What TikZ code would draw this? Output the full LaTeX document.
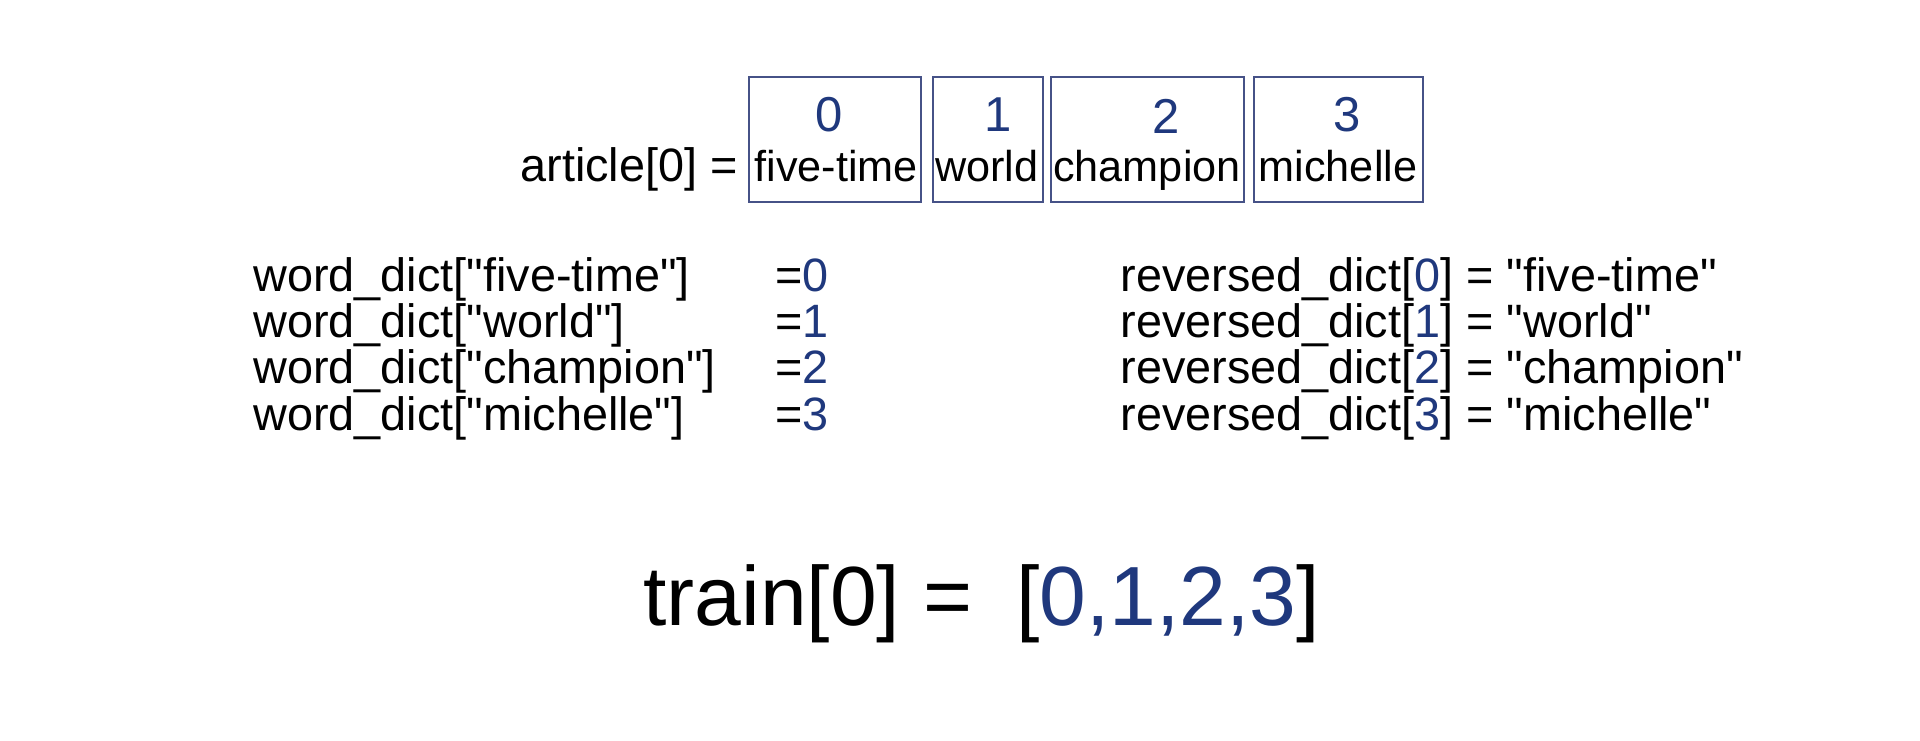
\documentclass[tikz,border=0pt]{standalone}
\usepackage{fontspec}
\setmainfont{Liberation Sans}[Ligatures=TeXOff]
\definecolor{navy}{RGB}{31,56,125}
\definecolor{boxline}{RGB}{70,82,135}
\begin{document}
\begin{tikzpicture}[x=0.5pt,y=-0.5pt,
  txt/.style={anchor=base west,inner sep=0pt,font=\fontsize{23.4pt}{28pt}\selectfont},
  wtxt/.style={anchor=base,inner sep=0pt,font=\fontsize{21.6pt}{26pt}\selectfont},
  num/.style={anchor=base,inner sep=0pt,text=navy,font=\fontsize{24.5pt}{29pt}\selectfont},
  cell/.style={draw=boxline,line width=0.7pt,inner sep=0pt,minimum height=62.5pt},
  big/.style={anchor=base west,inner sep=0pt,font=\fontsize{42pt}{50pt}\selectfont}]
\useasboundingbox[fill=white] (0,0) rectangle (1920,740);
% article row
\node[txt] (art) at (520,181) {article[0] =};
\node[cell,minimum width=86pt] (b0) at (835,139.5) {};
\node[cell,minimum width=55pt] (b1) at (988,139.5) {};
\node[cell,minimum width=96.5pt] (b2) at (1147.5,139.5) {};
\node[cell,minimum width=84.5pt] (b3) at (1338.5,139.5) {};
\node[num] (n0) at (829,131) {0};
\node[num] (n1) at (998,131) {1};
\node[num] (n2) at (1166,133) {2};
\node[num] (n3) at (1347,131) {3};
\node[wtxt] (w0) at (836,181) {five-time};
\node[wtxt] (w1) at (987,181) {world};
\node[wtxt] (w2) at (1147,181) {champion};
\node[wtxt] (w3) at (1338,181) {michelle};
% word_dict
\node[txt] (d0) at (253,291) {word\_dict["five-time"]};
\node[txt] (d1) at (253,337) {word\_dict["world"]};
\node[txt] (d2) at (253,383) {word\_dict["champion"]};
\node[txt] (d3) at (253,430) {word\_dict["michelle"]};
\node[txt] (e0) at (775,291) {=\textcolor{navy}{0}};
\node[txt] (e1) at (775,337) {=\textcolor{navy}{1}};
\node[txt] (e2) at (775,383) {=\textcolor{navy}{2}};
\node[txt] (e3) at (775,430) {=\textcolor{navy}{3}};
% reversed_dict
\node[txt] (r0) at (1120,291) {reversed\_dict[\textcolor{navy}{0}] = "five-time"};
\node[txt] (r1) at (1120,337) {reversed\_dict[\textcolor{navy}{1}] = "world"};
\node[txt] (r2) at (1120,383) {reversed\_dict[\textcolor{navy}{2}] = "champion"};
\node[txt] (r3) at (1120,430) {reversed\_dict[\textcolor{navy}{3}] = "michelle"};
% train
\node[big] (tr) at (643,625) {train[0] =};
\node[big] (tv) at (1016,625) {[\textcolor{navy}{0,1,2,3}]};
\end{tikzpicture}
\end{document}
